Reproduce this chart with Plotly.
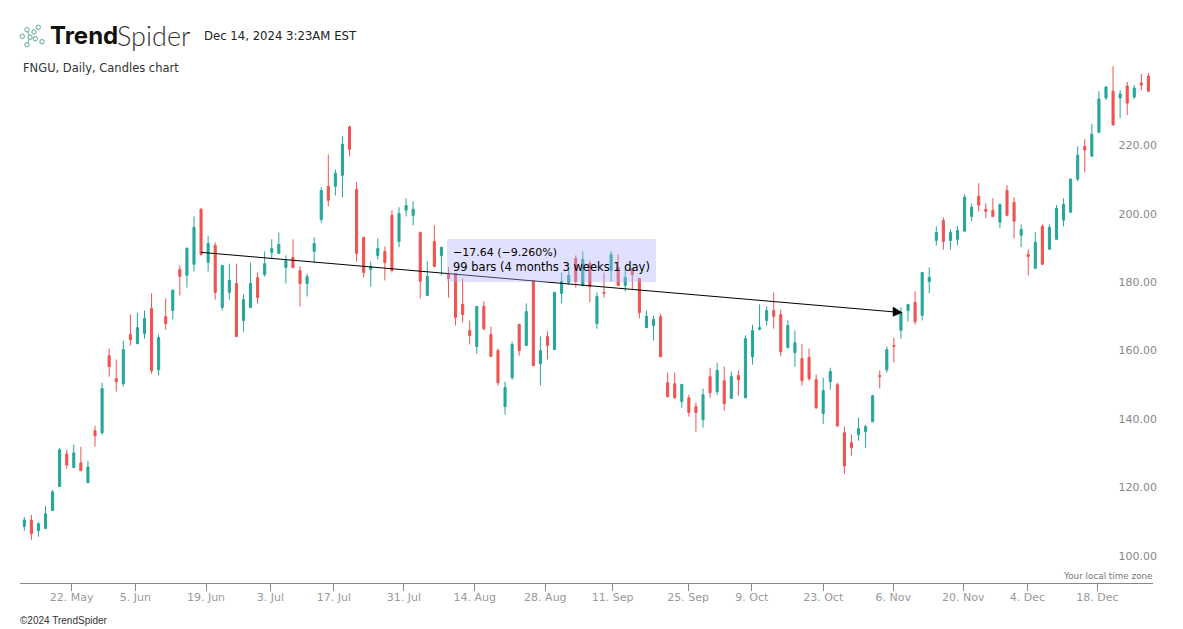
import plotly.graph_objects as go

W, H = 1183, 629
L, R, T, B = 20, 30, 60, 46

open_ = [108.6,110.5,107.4,108.0,113.3,120.3,129.8,125.8,127.2,121.4,
 136.6,136.0,158.5,151.8,150.3,164.7,162.0,165.0,172.3,154.4,
 169.9,171.7,183.7,182.0,185.2,201.3,185.8,190.7,172.6,177.0,
 179.6,168.8,172.6,181.3,182.2,188.7,188.4,184.3,187.2,183.4,
 179.6,189.0,198.3,208.0,208.0,211.2,225.3,207.1,193.1,183.7,
 187.8,189.0,199.5,191.9,201.0,199.5,194.5,176.1,191.9,187.8,
 182.5,182.5,173.5,165.9,161.2,172.9,164.7,160.0,143.6,152.1,
 167.6,161.5,180.5,156.2,164.1,160.3,176.7,179.9,186.9,179.0,
 185.5,167.9,177.0,183.4,184.3,179.0,184.0,181.1,166.7,167.3,
 169.9,150.6,150.3,145.1,146.2,143.6,139.8,152.4,148.0,151.2,
 146.0,152.7,146.2,158.2,166.2,168.8,171.7,170.5,160.9,159.4,
 157.7,158.0,151.5,141.6,150.9,150.0,136.0,133.1,135.4,136.3,
 139.2,152.7,154.4,161.5,165.9,171.7,174.1,170.3,180.2,192.2,
 198.0,192.2,192.5,194.9,199.2,205.1,201.3,201.0,197.5,206.8,
 203.3,193.7,188.1,184.0,196.3,189.6,192.5,198.1,200.4,210.1,
 219.7,216.8,223.8,233.8,235.8,233.8,237.3,234.1,238.2,240.2]
high = [111.4,112.0,109.9,114.6,119.3,131.6,131.0,132.5,131.9,127.8,
 138.0,150.6,160.6,157.4,162.9,170.5,171.1,171.7,176.7,164.7,
 175.2,177.9,184.9,190.1,199.2,201.6,193.4,191.6,184.9,185.4,
 185.4,176.4,185.7,182.8,189.0,192.5,194.5,187.8,192.5,184.6,
 182.5,193.1,207.7,217.3,212.9,222.6,225.8,209.2,193.1,186.0,
 192.8,190.4,201.0,201.9,204.5,203.6,194.8,186.1,196.6,190.2,
 184.4,182.5,181.1,168.8,172.9,174.4,167.0,160.6,150.9,162.6,
 167.9,173.8,180.5,164.1,165.6,177.0,182.8,184.9,187.8,189.0,
 186.3,177.0,182.8,189.0,188.1,184.9,184.0,181.1,171.7,170.2,
 170.8,153.6,153.6,150.3,147.1,144.8,148.9,155.0,156.5,155.3,
 153.9,154.2,164.4,167.6,173.5,172.9,177.0,172.0,168.8,165.9,
 162.0,160.6,153.0,152.1,155.0,150.6,137.8,135.4,140.4,138.3,
 147.1,154.2,161.2,163.8,172.6,173.5,177.3,182.8,184.3,196.3,
 198.9,195.4,196.3,205.7,203.0,208.9,203.0,204.5,203.0,208.3,
 204.8,196.9,189.6,194.6,196.9,196.9,202.5,204.5,210.1,219.7,
 221.8,226.2,235.8,237.3,243.1,236.1,238.5,237.6,240.8,241.1]
low = [107.3,104.7,105.6,108.0,113.3,120.3,125.5,125.8,124.9,121.4,
 131.9,135.4,152.4,148.0,149.5,161.5,162.0,163.5,153.3,152.7,
 166.1,169.1,176.1,178.4,183.1,187.8,183.1,174.9,171.7,174.9,
 164.1,165.5,172.6,173.7,181.6,186.9,188.4,179.6,184.0,172.9,
 175.8,185.7,197.4,202.1,205.3,204.8,216.8,186.0,181.4,178.7,
 186.6,180.5,182.8,190.2,199.2,196.6,175.2,176.1,184.3,182.0,
 175.5,167.3,168.2,161.8,159.1,165.9,158.3,149.8,141.3,151.5,
 158.5,161.5,155.6,149.8,157.4,160.3,173.8,179.3,178.4,178.7,
 174.1,166.4,175.5,180.2,179.0,177.3,177.6,169.4,166.7,162.9,
 158.2,146.5,145.9,143.3,140.7,136.3,137.5,146.2,147.1,142.4,
 146.0,146.8,146.2,155.9,165.9,167.3,166.4,158.3,160.6,155.3,
 149.8,151.2,143.0,138.6,148.6,137.8,124.0,129.3,133.7,131.6,
 139.2,148.9,153.6,156.5,163.5,168.5,167.6,168.8,176.7,190.7,
 189.5,189.5,190.8,194.9,197.8,200.7,198.7,199.2,195.7,199.2,
 192.8,190.2,182.0,184.0,185.2,189.6,192.5,196.3,200.4,209.5,
 212.1,216.8,223.5,233.2,225.9,227.9,228.8,233.5,236.1,235.5]
close = [110.5,106.5,109.4,112.3,118.7,131.0,126.6,130.1,124.9,126.0,
 135.1,148.9,155.3,150.9,160.3,163.2,166.7,169.4,154.1,163.8,
 167.9,177.6,181.7,189.9,196.0,188.1,191.3,177.0,184.9,180.5,
 164.1,174.9,179.6,175.5,185.4,189.8,191.0,186.3,184.3,179.6,
 181.6,191.3,206.8,203.9,211.8,220.3,218.8,188.4,182.8,184.6,
 189.8,185.7,183.4,200.1,202.4,201.3,180.2,181.7,184.6,190.2,
 181.1,169.7,170.5,164.4,172.9,166.4,158.3,150.6,149.2,161.8,
 160.0,171.4,155.6,160.0,161.5,177.0,180.2,182.0,180.2,186.6,
 178.7,175.8,176.7,188.1,179.0,181.4,182.2,171.1,170.0,169.1,
 158.2,146.5,146.2,150.1,141.9,141.9,147.1,147.7,154.2,144.5,
 152.4,151.5,163.5,165.9,166.7,171.7,170.0,159.7,167.3,162.3,
 151.2,151.8,143.3,148.3,153.9,138.0,126.3,131.6,137.2,137.8,
 146.8,152.4,160.3,161.2,171.1,173.5,168.5,182.8,181.4,194.5,
 191.9,194.5,195.1,204.8,201.9,202.5,200.7,199.2,202.7,199.5,
 197.8,195.4,187.5,191.6,185.2,196.0,201.6,202.7,210.1,217.1,
 218.6,223.2,233.5,237.0,225.9,235.0,232.3,236.7,237.6,235.8]

tick_positions = [6.7,15.7,25.7,34.8,43.8,53.7,63.7,73.7,83.2,93.9,102.9,113.0,122.9,132.8,141.9,151.8]
tick_labels = ["22. May","5. Jun","19. Jun","3. Jul","17. Jul","31. Jul","14. Aug","28. Aug",
               "11. Sep","25. Sep","9. Oct","23. Oct","6. Nov","20. Nov","4. Dec","18. Dec"]
price_ticks = [100,120,140,160,180,200,220]

measure_bars = [25, 124.15]
measure_prices = [188.7, 171.1]
head_bars = [124.15, 122.88, 122.88, 124.15]
head_prices = [171.1, 172.7, 170.0, 171.1]

GREEN, RED = "#26a69a", "#ef5350"
FONT = "DejaVu Sans"

def px(x): return (x - L) / (W - L - R)
def py(y): return 1 - (y - T) / (H - T - B)

def text(x, y, s, size, color, family=FONT, xanchor="left", yanchor="middle"):
    return dict(x=px(x), y=py(y), xref="paper", yref="paper", text=s, showarrow=False,
                xanchor=xanchor, yanchor=yanchor, align="left",
                font=dict(family=family, size=size, color=color), borderpad=0)

fig = go.Figure()
fig.add_trace(go.Candlestick(
    x=list(range(len(close))), open=open_, high=high, low=low, close=close,
    increasing=dict(line=dict(color=GREEN, width=1), fillcolor=GREEN),
    decreasing=dict(line=dict(color=RED, width=1), fillcolor=RED),
    whiskerwidth=0, showlegend=False, hoverinfo="skip"))
fig.add_trace(go.Scatter(
    x=measure_bars, y=measure_prices, mode="lines",
    line=dict(color="#000000", width=1), showlegend=False, hoverinfo="skip"))
fig.add_trace(go.Scatter(
    x=head_bars, y=head_prices, mode="lines", fill="toself", fillcolor="#000000",
    line=dict(color="#000000", width=0.5), showlegend=False, hoverinfo="skip"))

shapes = [dict(type="rect", xref="paper", yref="paper", x0=px(447), x1=px(656), y0=py(282), y1=py(239),
               fillcolor="rgba(170,170,255,0.37)", line=dict(width=0), layer="above")]
icon_nodes = [(27,29.7),(22.3,36.3),(30,37.3),(34,32),(38.3,27.3),(35.3,38.7),(42,41.7),(27,44.7)]
ICON = "#5aa892"
for a, b in [(0,2),(2,7)]:
    shapes.append(dict(type="line", xref="paper", yref="paper", x0=px(icon_nodes[a][0]), y0=py(icon_nodes[a][1]),
                       x1=px(icon_nodes[b][0]), y1=py(icon_nodes[b][1]), line=dict(color=ICON, width=1)))
for (cx, cy) in icon_nodes:
    r = 2.2
    shapes.append(dict(type="circle", xref="paper", yref="paper", x0=px(cx-r), x1=px(cx+r),
                       y0=py(cy+r), y1=py(cy-r), line=dict(color=ICON, width=1), fillcolor="#ffffff"))

annotations = [
    text(49, 36, "<b>Trend</b>", 24, "#111111", family="Inter"),
    text(116, 36, "Spider", 27, "#333333", family="Lato Light"),
    text(202.5, 36, "Dec 14, 2024 3:23AM EST", 11.7, "#222222"),
    text(21.5, 68, "FNGU, Daily, Candles chart", 11.5, "#333333"),
    text(452, 252, "\u221217.64 (\u22129.260%)", 11, "#000000"),
    text(452, 267, "99 bars (4 months 3 weeks 1 day)", 11.5, "#000000"),
    text(1154, 576, "Your local time zone", 8.8, "#777777", xanchor="right"),
    text(19, 620, "\u00a92024 TrendSpider", 10, "#333333", family="Liberation Sans"),
]

fig.update_layout(
    width=W, height=H, margin=dict(l=L, r=R, t=T, b=B),
    paper_bgcolor="#ffffff", plot_bgcolor="#ffffff",
    font=dict(family=FONT, size=11, color="#888888"),
    shapes=shapes, annotations=annotations, boxgap=0.58,
    xaxis=dict(range=[-0.61, 159.65], rangeslider=dict(visible=False), showgrid=False, zeroline=False,
               tickmode="array", tickvals=tick_positions, ticktext=tick_labels,
               ticks="outside", ticklen=7, tickwidth=1, tickcolor="#888888",
               showline=True, linecolor="#888888", linewidth=1, ticklabelstandoff=-3,
               tickfont=dict(family=FONT, size=11, color="#999999")),
    yaxis=dict(range=[92.1, 244.9], side="right", showgrid=False, zeroline=False, showline=False,
               tickmode="array", tickvals=price_ticks, ticktext=[f"{v:.2f}" for v in price_ticks],
               ticks="", ticklabelposition="inside", ticklabelstandoff=-7,
               tickfont=dict(family=FONT, size=11, color="#888888")),
)
fig.write_html("out.html", config=dict(displayModeBar=False),
               post_script="document.body.style.margin='0';document.body.style.overflow='hidden';")
